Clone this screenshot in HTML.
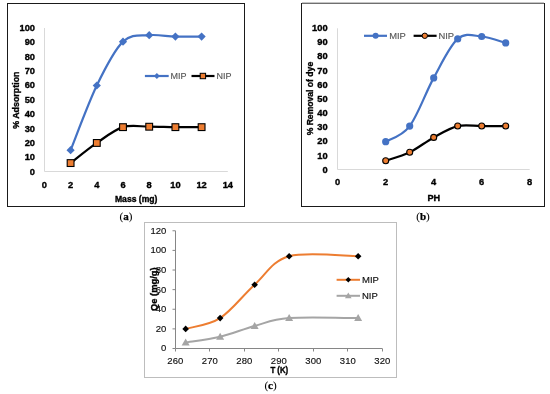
<!DOCTYPE html>
<html><head><meta charset="utf-8"><title>Figure</title>
<style>
html,body{margin:0;padding:0;background:#fff;}
body{width:550px;height:394px;overflow:hidden;}
svg{display:block;}
</style></head>
<body>
<svg width="550" height="394" viewBox="0 0 550 394">
<rect x="0" y="0" width="550" height="394" fill="#fff"/>
<rect x="7.5" y="3.5" width="237" height="203" fill="#fff" stroke="#1a1a1a" stroke-width="1"/>
<line x1="44.5" y1="28.00" x2="44.5" y2="171.5" stroke="#D9D9D9" stroke-width="1"/>
<line x1="44.5" y1="171.5" x2="227.80" y2="171.5" stroke="#D9D9D9" stroke-width="1"/>
<text x="35.00" y="174.70" font-size="9.3" text-anchor="end" font-weight="bold" fill="#000" font-family="'Liberation Sans', Arial, sans-serif"  stroke="#000" stroke-width="0.35">0</text>
<text x="35.00" y="160.33" font-size="9.3" text-anchor="end" font-weight="bold" fill="#000" font-family="'Liberation Sans', Arial, sans-serif"  stroke="#000" stroke-width="0.35">10</text>
<text x="35.00" y="145.96" font-size="9.3" text-anchor="end" font-weight="bold" fill="#000" font-family="'Liberation Sans', Arial, sans-serif"  stroke="#000" stroke-width="0.35">20</text>
<text x="35.00" y="131.59" font-size="9.3" text-anchor="end" font-weight="bold" fill="#000" font-family="'Liberation Sans', Arial, sans-serif"  stroke="#000" stroke-width="0.35">30</text>
<text x="35.00" y="117.22" font-size="9.3" text-anchor="end" font-weight="bold" fill="#000" font-family="'Liberation Sans', Arial, sans-serif"  stroke="#000" stroke-width="0.35">40</text>
<text x="35.00" y="102.85" font-size="9.3" text-anchor="end" font-weight="bold" fill="#000" font-family="'Liberation Sans', Arial, sans-serif"  stroke="#000" stroke-width="0.35">50</text>
<text x="35.00" y="88.48" font-size="9.3" text-anchor="end" font-weight="bold" fill="#000" font-family="'Liberation Sans', Arial, sans-serif"  stroke="#000" stroke-width="0.35">60</text>
<text x="35.00" y="74.11" font-size="9.3" text-anchor="end" font-weight="bold" fill="#000" font-family="'Liberation Sans', Arial, sans-serif"  stroke="#000" stroke-width="0.35">70</text>
<text x="35.00" y="59.74" font-size="9.3" text-anchor="end" font-weight="bold" fill="#000" font-family="'Liberation Sans', Arial, sans-serif"  stroke="#000" stroke-width="0.35">80</text>
<text x="35.00" y="45.37" font-size="9.3" text-anchor="end" font-weight="bold" fill="#000" font-family="'Liberation Sans', Arial, sans-serif"  stroke="#000" stroke-width="0.35">90</text>
<text x="35.00" y="31.00" font-size="9.3" text-anchor="end" font-weight="bold" fill="#000" font-family="'Liberation Sans', Arial, sans-serif"  stroke="#000" stroke-width="0.35">100</text>
<text x="44.40" y="188.00" font-size="9.3" text-anchor="middle" font-weight="bold" fill="#000" font-family="'Liberation Sans', Arial, sans-serif"  stroke="#000" stroke-width="0.35">0</text>
<text x="70.60" y="188.00" font-size="9.3" text-anchor="middle" font-weight="bold" fill="#000" font-family="'Liberation Sans', Arial, sans-serif"  stroke="#000" stroke-width="0.35">2</text>
<text x="96.80" y="188.00" font-size="9.3" text-anchor="middle" font-weight="bold" fill="#000" font-family="'Liberation Sans', Arial, sans-serif"  stroke="#000" stroke-width="0.35">4</text>
<text x="123.00" y="188.00" font-size="9.3" text-anchor="middle" font-weight="bold" fill="#000" font-family="'Liberation Sans', Arial, sans-serif"  stroke="#000" stroke-width="0.35">6</text>
<text x="149.20" y="188.00" font-size="9.3" text-anchor="middle" font-weight="bold" fill="#000" font-family="'Liberation Sans', Arial, sans-serif"  stroke="#000" stroke-width="0.35">8</text>
<text x="175.40" y="188.00" font-size="9.3" text-anchor="middle" font-weight="bold" fill="#000" font-family="'Liberation Sans', Arial, sans-serif"  stroke="#000" stroke-width="0.35">10</text>
<text x="201.60" y="188.00" font-size="9.3" text-anchor="middle" font-weight="bold" fill="#000" font-family="'Liberation Sans', Arial, sans-serif"  stroke="#000" stroke-width="0.35">12</text>
<text x="227.80" y="188.00" font-size="9.3" text-anchor="middle" font-weight="bold" fill="#000" font-family="'Liberation Sans', Arial, sans-serif"  stroke="#000" stroke-width="0.35">14</text>
<text x="136.20" y="201.80" font-size="8.6" text-anchor="middle" font-weight="bold" fill="#000" font-family="'Liberation Sans', Arial, sans-serif"  stroke="#000" stroke-width="0.35">Mass (mg)</text>
<text x="0.00" y="0.00" font-size="8.9" text-anchor="middle" font-weight="bold" fill="#000" font-family="'Liberation Sans', Arial, sans-serif" transform="translate(19.3,100.2) rotate(-90)" stroke="#000" stroke-width="0.35">% Adsorption</text>
<path d="M70.60,150.14 C74.97,139.37 88.07,103.56 96.80,85.48 C105.53,67.40 114.27,50.03 123.00,41.65 C131.73,33.27 140.47,36.02 149.20,35.18 C157.93,34.35 166.67,36.38 175.40,36.62 C184.13,36.86 197.23,36.62 201.60,36.62" fill="none" stroke="#4472C4" stroke-width="2.2"/>
<path d="M70.60,163.08 C74.97,159.72 88.07,148.95 96.80,142.96 C105.53,136.97 114.27,129.86 123.00,127.15 C131.73,124.45 140.47,126.72 149.20,126.72 C157.93,126.72 166.67,127.08 175.40,127.15 C184.13,127.22 197.23,127.15 201.60,127.15" fill="none" stroke="#000" stroke-width="2.2"/>
<path d="M70.60,146.04 L74.70,150.14 L70.60,154.24 L66.50,150.14 Z" fill="#4472C4"/>
<path d="M96.80,81.38 L100.90,85.48 L96.80,89.58 L92.70,85.48 Z" fill="#4472C4"/>
<path d="M123.00,37.55 L127.10,41.65 L123.00,45.75 L118.90,41.65 Z" fill="#4472C4"/>
<path d="M149.20,31.08 L153.30,35.18 L149.20,39.28 L145.10,35.18 Z" fill="#4472C4"/>
<path d="M175.40,32.52 L179.50,36.62 L175.40,40.72 L171.30,36.62 Z" fill="#4472C4"/>
<path d="M201.60,32.52 L205.70,36.62 L201.60,40.72 L197.50,36.62 Z" fill="#4472C4"/>
<rect x="67.20" y="159.68" width="6.80" height="6.80" fill="#ED7D31" stroke="#000" stroke-width="1.1"/>
<rect x="93.40" y="139.56" width="6.80" height="6.80" fill="#ED7D31" stroke="#000" stroke-width="1.1"/>
<rect x="119.60" y="123.75" width="6.80" height="6.80" fill="#ED7D31" stroke="#000" stroke-width="1.1"/>
<rect x="145.80" y="123.32" width="6.80" height="6.80" fill="#ED7D31" stroke="#000" stroke-width="1.1"/>
<rect x="172.00" y="123.75" width="6.80" height="6.80" fill="#ED7D31" stroke="#000" stroke-width="1.1"/>
<rect x="198.20" y="123.75" width="6.80" height="6.80" fill="#ED7D31" stroke="#000" stroke-width="1.1"/>
<line x1="144.9" y1="76" x2="168.7" y2="76" stroke="#4472C4" stroke-width="2.2"/>
<path d="M156.90,73.00 L159.90,76.00 L156.90,79.00 L153.90,76.00 Z" fill="#4472C4"/>
<text x="170.60" y="79.40" font-size="9.0" text-anchor="start" font-weight="normal" fill="#595959" font-family="'Liberation Sans', Arial, sans-serif"  stroke="#595959" stroke-width="0.15">MIP</text>
<line x1="191.5" y1="76" x2="214.5" y2="76" stroke="#000" stroke-width="2.2"/>
<rect x="200.20" y="73.30" width="5.40" height="5.40" fill="#ED7D31" stroke="#000" stroke-width="1"/>
<text x="216.40" y="79.40" font-size="9.0" text-anchor="start" font-weight="normal" fill="#595959" font-family="'Liberation Sans', Arial, sans-serif"  stroke="#595959" stroke-width="0.15">NIP</text>
<text x="125.90" y="219.60" font-size="11" text-anchor="middle" font-weight="normal" fill="#000" font-family="'Liberation Serif', serif"  stroke="#000" stroke-width="0.1">(<tspan font-weight="bold" stroke-width="0.25">a</tspan>)</text>
<rect x="301.5" y="3.5" width="243" height="203" fill="#fff" stroke="#1a1a1a" stroke-width="1"/>
<line x1="302" y1="3.1" x2="544" y2="3.1" stroke="#8c8c8c" stroke-width="1.3"/>
<line x1="337.5" y1="28.30" x2="337.5" y2="169.5" stroke="#D9D9D9" stroke-width="1"/>
<line x1="337.5" y1="169.5" x2="529.70" y2="169.5" stroke="#D9D9D9" stroke-width="1"/>
<text x="327.60" y="172.80" font-size="9.3" text-anchor="end" font-weight="bold" fill="#000" font-family="'Liberation Sans', Arial, sans-serif"  stroke="#000" stroke-width="0.35">0</text>
<text x="327.60" y="158.63" font-size="9.3" text-anchor="end" font-weight="bold" fill="#000" font-family="'Liberation Sans', Arial, sans-serif"  stroke="#000" stroke-width="0.35">10</text>
<text x="327.60" y="144.46" font-size="9.3" text-anchor="end" font-weight="bold" fill="#000" font-family="'Liberation Sans', Arial, sans-serif"  stroke="#000" stroke-width="0.35">20</text>
<text x="327.60" y="130.29" font-size="9.3" text-anchor="end" font-weight="bold" fill="#000" font-family="'Liberation Sans', Arial, sans-serif"  stroke="#000" stroke-width="0.35">30</text>
<text x="327.60" y="116.12" font-size="9.3" text-anchor="end" font-weight="bold" fill="#000" font-family="'Liberation Sans', Arial, sans-serif"  stroke="#000" stroke-width="0.35">40</text>
<text x="327.60" y="101.95" font-size="9.3" text-anchor="end" font-weight="bold" fill="#000" font-family="'Liberation Sans', Arial, sans-serif"  stroke="#000" stroke-width="0.35">50</text>
<text x="327.60" y="87.78" font-size="9.3" text-anchor="end" font-weight="bold" fill="#000" font-family="'Liberation Sans', Arial, sans-serif"  stroke="#000" stroke-width="0.35">60</text>
<text x="327.60" y="73.61" font-size="9.3" text-anchor="end" font-weight="bold" fill="#000" font-family="'Liberation Sans', Arial, sans-serif"  stroke="#000" stroke-width="0.35">70</text>
<text x="327.60" y="59.44" font-size="9.3" text-anchor="end" font-weight="bold" fill="#000" font-family="'Liberation Sans', Arial, sans-serif"  stroke="#000" stroke-width="0.35">80</text>
<text x="327.60" y="45.27" font-size="9.3" text-anchor="end" font-weight="bold" fill="#000" font-family="'Liberation Sans', Arial, sans-serif"  stroke="#000" stroke-width="0.35">90</text>
<text x="327.60" y="31.10" font-size="9.3" text-anchor="end" font-weight="bold" fill="#000" font-family="'Liberation Sans', Arial, sans-serif"  stroke="#000" stroke-width="0.35">100</text>
<text x="337.70" y="185.40" font-size="9.3" text-anchor="middle" font-weight="bold" fill="#000" font-family="'Liberation Sans', Arial, sans-serif"  stroke="#000" stroke-width="0.35">0</text>
<text x="385.70" y="185.40" font-size="9.3" text-anchor="middle" font-weight="bold" fill="#000" font-family="'Liberation Sans', Arial, sans-serif"  stroke="#000" stroke-width="0.35">2</text>
<text x="433.70" y="185.40" font-size="9.3" text-anchor="middle" font-weight="bold" fill="#000" font-family="'Liberation Sans', Arial, sans-serif"  stroke="#000" stroke-width="0.35">4</text>
<text x="481.70" y="185.40" font-size="9.3" text-anchor="middle" font-weight="bold" fill="#000" font-family="'Liberation Sans', Arial, sans-serif"  stroke="#000" stroke-width="0.35">6</text>
<text x="529.70" y="185.40" font-size="9.3" text-anchor="middle" font-weight="bold" fill="#000" font-family="'Liberation Sans', Arial, sans-serif"  stroke="#000" stroke-width="0.35">8</text>
<text x="433.80" y="201.30" font-size="9.2" text-anchor="middle" font-weight="bold" fill="#000" font-family="'Liberation Sans', Arial, sans-serif"  stroke="#000" stroke-width="0.35">PH</text>
<text x="0.00" y="0.00" font-size="8.6" text-anchor="middle" font-weight="bold" fill="#000" font-family="'Liberation Sans', Arial, sans-serif" transform="translate(313.0,98.6) rotate(-90)" stroke="#000" stroke-width="0.35">% Removal of dye</text>
<path d="M385.70,141.66 C389.70,139.06 401.70,136.70 409.70,126.07 C417.70,115.45 425.70,92.42 433.70,77.89 C441.70,63.37 449.70,45.82 457.70,38.93 C465.70,32.03 473.70,35.86 481.70,36.52 C489.70,37.18 501.70,41.83 505.70,42.90" fill="none" stroke="#4472C4" stroke-width="2.2"/>
<path d="M385.70,160.79 C389.70,159.37 401.70,156.18 409.70,152.29 C417.70,148.39 425.70,141.78 433.70,137.41 C441.70,133.04 449.70,127.96 457.70,126.07 C465.70,124.18 473.70,126.07 481.70,126.07 C489.70,126.07 501.70,126.07 505.70,126.07" fill="none" stroke="#000" stroke-width="2.2"/>
<circle cx="385.70" cy="141.66" r="3.6" fill="#4472C4"/>
<circle cx="409.70" cy="126.07" r="3.6" fill="#4472C4"/>
<circle cx="433.70" cy="77.89" r="3.6" fill="#4472C4"/>
<circle cx="457.70" cy="38.93" r="3.6" fill="#4472C4"/>
<circle cx="481.70" cy="36.52" r="3.6" fill="#4472C4"/>
<circle cx="505.70" cy="42.90" r="3.6" fill="#4472C4"/>
<circle cx="385.70" cy="160.79" r="3.0" fill="#ED7D31" stroke="#000" stroke-width="1.1"/>
<circle cx="409.70" cy="152.29" r="3.0" fill="#ED7D31" stroke="#000" stroke-width="1.1"/>
<circle cx="433.70" cy="137.41" r="3.0" fill="#ED7D31" stroke="#000" stroke-width="1.1"/>
<circle cx="457.70" cy="126.07" r="3.0" fill="#ED7D31" stroke="#000" stroke-width="1.1"/>
<circle cx="481.70" cy="126.07" r="3.0" fill="#ED7D31" stroke="#000" stroke-width="1.1"/>
<circle cx="505.70" cy="126.07" r="3.0" fill="#ED7D31" stroke="#000" stroke-width="1.1"/>
<line x1="364" y1="35.8" x2="387" y2="35.8" stroke="#4472C4" stroke-width="2.2"/>
<circle cx="375.60" cy="35.80" r="3.0" fill="#4472C4"/>
<text x="389.20" y="39.10" font-size="9.4" text-anchor="start" font-weight="normal" fill="#595959" font-family="'Liberation Sans', Arial, sans-serif"  stroke="#595959" stroke-width="0.15">MIP</text>
<line x1="413.6" y1="35.8" x2="436.6" y2="35.8" stroke="#000" stroke-width="2.2"/>
<circle cx="424.80" cy="35.80" r="2.7" fill="#ED7D31" stroke="#000" stroke-width="1"/>
<text x="438.40" y="39.10" font-size="9.4" text-anchor="start" font-weight="normal" fill="#595959" font-family="'Liberation Sans', Arial, sans-serif"  stroke="#595959" stroke-width="0.15">NIP</text>
<text x="423.00" y="219.60" font-size="11" text-anchor="middle" font-weight="normal" fill="#000" font-family="'Liberation Serif', serif"  stroke="#000" stroke-width="0.1">(<tspan font-weight="bold" stroke-width="0.25">b</tspan>)</text>
<rect x="144.5" y="222.5" width="252" height="155" fill="#fff" stroke="#BDBDBD" stroke-width="1"/>
<line x1="175.5" y1="230.78" x2="175.5" y2="348.5" stroke="#868686" stroke-width="1"/>
<line x1="175.5" y1="348.5" x2="382.30" y2="348.5" stroke="#868686" stroke-width="1"/>
<line x1="172.5" y1="348.50" x2="175.5" y2="348.50" stroke="#868686" stroke-width="1"/>
<text x="166.40" y="351.40" font-size="9.5" text-anchor="end" font-weight="normal" fill="#111" font-family="'Liberation Sans', Arial, sans-serif"  stroke="#111" stroke-width="0.15">0</text>
<line x1="172.5" y1="328.88" x2="175.5" y2="328.88" stroke="#868686" stroke-width="1"/>
<text x="166.40" y="331.78" font-size="9.5" text-anchor="end" font-weight="normal" fill="#111" font-family="'Liberation Sans', Arial, sans-serif"  stroke="#111" stroke-width="0.15">20</text>
<line x1="172.5" y1="309.26" x2="175.5" y2="309.26" stroke="#868686" stroke-width="1"/>
<text x="166.40" y="312.16" font-size="9.5" text-anchor="end" font-weight="normal" fill="#111" font-family="'Liberation Sans', Arial, sans-serif"  stroke="#111" stroke-width="0.15">40</text>
<line x1="172.5" y1="289.64" x2="175.5" y2="289.64" stroke="#868686" stroke-width="1"/>
<text x="166.40" y="292.54" font-size="9.5" text-anchor="end" font-weight="normal" fill="#111" font-family="'Liberation Sans', Arial, sans-serif"  stroke="#111" stroke-width="0.15">60</text>
<line x1="172.5" y1="270.02" x2="175.5" y2="270.02" stroke="#868686" stroke-width="1"/>
<text x="166.40" y="272.92" font-size="9.5" text-anchor="end" font-weight="normal" fill="#111" font-family="'Liberation Sans', Arial, sans-serif"  stroke="#111" stroke-width="0.15">80</text>
<line x1="172.5" y1="250.40" x2="175.5" y2="250.40" stroke="#868686" stroke-width="1"/>
<text x="166.40" y="253.30" font-size="9.5" text-anchor="end" font-weight="normal" fill="#111" font-family="'Liberation Sans', Arial, sans-serif"  stroke="#111" stroke-width="0.15">100</text>
<line x1="172.5" y1="230.78" x2="175.5" y2="230.78" stroke="#868686" stroke-width="1"/>
<text x="166.40" y="233.68" font-size="9.5" text-anchor="end" font-weight="normal" fill="#111" font-family="'Liberation Sans', Arial, sans-serif"  stroke="#111" stroke-width="0.15">120</text>
<line x1="175.50" y1="348.5" x2="175.50" y2="351.5" stroke="#868686" stroke-width="1"/>
<text x="175.30" y="364.40" font-size="9.5" text-anchor="middle" font-weight="normal" fill="#111" font-family="'Liberation Sans', Arial, sans-serif"  stroke="#111" stroke-width="0.15">260</text>
<line x1="209.50" y1="348.5" x2="209.50" y2="351.5" stroke="#868686" stroke-width="1"/>
<text x="209.80" y="364.40" font-size="9.5" text-anchor="middle" font-weight="normal" fill="#111" font-family="'Liberation Sans', Arial, sans-serif"  stroke="#111" stroke-width="0.15">270</text>
<line x1="244.50" y1="348.5" x2="244.50" y2="351.5" stroke="#868686" stroke-width="1"/>
<text x="244.30" y="364.40" font-size="9.5" text-anchor="middle" font-weight="normal" fill="#111" font-family="'Liberation Sans', Arial, sans-serif"  stroke="#111" stroke-width="0.15">280</text>
<line x1="278.50" y1="348.5" x2="278.50" y2="351.5" stroke="#868686" stroke-width="1"/>
<text x="278.80" y="364.40" font-size="9.5" text-anchor="middle" font-weight="normal" fill="#111" font-family="'Liberation Sans', Arial, sans-serif"  stroke="#111" stroke-width="0.15">290</text>
<line x1="313.50" y1="348.5" x2="313.50" y2="351.5" stroke="#868686" stroke-width="1"/>
<text x="313.30" y="364.40" font-size="9.5" text-anchor="middle" font-weight="normal" fill="#111" font-family="'Liberation Sans', Arial, sans-serif"  stroke="#111" stroke-width="0.15">300</text>
<line x1="347.50" y1="348.5" x2="347.50" y2="351.5" stroke="#868686" stroke-width="1"/>
<text x="347.80" y="364.40" font-size="9.5" text-anchor="middle" font-weight="normal" fill="#111" font-family="'Liberation Sans', Arial, sans-serif"  stroke="#111" stroke-width="0.15">310</text>
<line x1="382.50" y1="348.5" x2="382.50" y2="351.5" stroke="#868686" stroke-width="1"/>
<text x="382.30" y="364.40" font-size="9.5" text-anchor="middle" font-weight="normal" fill="#111" font-family="'Liberation Sans', Arial, sans-serif"  stroke="#111" stroke-width="0.15">320</text>
<text x="279.30" y="373.30" font-size="8.2" text-anchor="middle" font-weight="bold" fill="#000" font-family="'Liberation Sans', Arial, sans-serif" textLength="17.8" lengthAdjust="spacingAndGlyphs" stroke="#000" stroke-width="0.35">T (K)</text>
<text x="0.00" y="0.00" font-size="9.8" text-anchor="middle" font-weight="bold" fill="#000" font-family="'Liberation Sans', Arial, sans-serif" transform="translate(156.8,289.2) rotate(-90)" textLength="43.5" lengthAdjust="spacingAndGlyphs" stroke="#000" stroke-width="0.35">Qe (mg/g)</text>
<path d="M185.65,328.88 C191.40,327.08 208.65,325.45 220.15,318.09 C231.65,310.73 243.15,295.04 254.65,284.74 C266.15,274.43 271.90,261.03 289.15,256.29 C306.40,251.54 346.65,256.29 358.15,256.29" fill="none" stroke="#ED7D31" stroke-width="2"/>
<path d="M185.65,342.61 C191.40,341.63 208.65,339.51 220.15,336.73 C231.65,333.95 243.15,329.04 254.65,325.94 C266.15,322.83 271.90,319.40 289.15,318.09 C306.40,316.78 346.65,318.09 358.15,318.09" fill="none" stroke="#A5A5A5" stroke-width="2"/>
<path d="M185.65,325.58 L188.95,328.88 L185.65,332.18 L182.35,328.88 Z" fill="#000"/>
<path d="M220.15,314.79 L223.45,318.09 L220.15,321.39 L216.85,318.09 Z" fill="#000"/>
<path d="M254.65,281.44 L257.95,284.74 L254.65,288.04 L251.35,284.74 Z" fill="#000"/>
<path d="M289.15,252.99 L292.45,256.29 L289.15,259.59 L285.85,256.29 Z" fill="#000"/>
<path d="M358.15,252.99 L361.45,256.29 L358.15,259.59 L354.85,256.29 Z" fill="#000"/>
<path d="M185.65,338.61 L189.65,345.61 L181.65,345.61 Z" fill="#A5A5A5"/>
<path d="M220.15,332.73 L224.15,339.73 L216.15,339.73 Z" fill="#A5A5A5"/>
<path d="M254.65,321.94 L258.65,328.94 L250.65,328.94 Z" fill="#A5A5A5"/>
<path d="M289.15,314.09 L293.15,321.09 L285.15,321.09 Z" fill="#A5A5A5"/>
<path d="M358.15,314.09 L362.15,321.09 L354.15,321.09 Z" fill="#A5A5A5"/>
<line x1="336.6" y1="279.8" x2="360" y2="279.8" stroke="#ED7D31" stroke-width="2"/>
<path d="M348.30,277.10 L351.00,279.80 L348.30,282.50 L345.60,279.80 Z" fill="#000"/>
<text x="362.00" y="283.00" font-size="9.5" text-anchor="start" font-weight="normal" fill="#111" font-family="'Liberation Sans', Arial, sans-serif"  stroke="#111" stroke-width="0.15">MIP</text>
<line x1="336.6" y1="295.8" x2="360" y2="295.8" stroke="#A5A5A5" stroke-width="2"/>
<path d="M348.30,292.50 L351.60,298.28 L345.00,298.28 Z" fill="#A5A5A5"/>
<text x="362.00" y="299.20" font-size="9.5" text-anchor="start" font-weight="normal" fill="#111" font-family="'Liberation Sans', Arial, sans-serif"  stroke="#111" stroke-width="0.15">NIP</text>
<text x="270.50" y="389.30" font-size="11" text-anchor="middle" font-weight="normal" fill="#000" font-family="'Liberation Serif', serif"  stroke="#000" stroke-width="0.1">(<tspan font-weight="bold" stroke-width="0.25">c</tspan>)</text>
</svg>
</body></html>
